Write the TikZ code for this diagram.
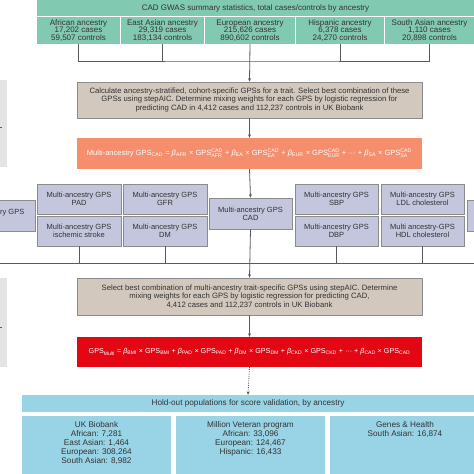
\documentclass[tikz,border=0pt]{standalone}
\usepackage{amsmath}
\usepackage{fontspec}
\setmainfont{Liberation Sans}
\usetikzlibrary{arrows.meta,positioning}
\definecolor{gwasgreen}{HTML}{82C9B2}
\definecolor{calcbeige}{HTML}{D2C8BD}
\definecolor{mixsalmon}{HTML}{F48E6D}
\definecolor{multired}{HTML}{E30613}
\definecolor{traitblue}{HTML}{C3C6DD}
\definecolor{holdblue}{HTML}{99D3E6}
\definecolor{panelgray}{HTML}{E4E4E4}
\definecolor{bordergray}{HTML}{8C8C8C}
\definecolor{linegray}{HTML}{5A5A5A}
\definecolor{textgray}{HTML}{333333}
\newcommand{\mixw}[1]{\textit{β}$_{\text{#1}}$}
\newcommand{\gpsup}[2]{GPS$^{\text{#1}}_{\text{#2}}$}
\newcommand{\gpsub}[1]{GPS$_{\text{#1}}$}
\begin{document}
\begin{tikzpicture}[x=1pt,y=-1pt,>={Stealth[length=3.5pt,width=3pt]},
    line/.style={draw=linegray,line width=0.8pt},
    greenbox/.style={fill=gwasgreen,text=textgray,align=center,inner sep=0pt,font=\fontsize{8}{7.6}\selectfont},
    calcbox/.style={draw=bordergray,fill=calcbeige,line width=0.7pt,text=textgray,align=center,inner sep=0pt,
        minimum width=345,minimum height=36,font=\fontsize{7.7}{8.5}\selectfont},
    formbox/.style={fill=#1,text=white,inner sep=0pt,minimum width=345,minimum height=31,font=\fontsize{7.5}{8.5}\selectfont},
    traitbox/.style={draw=bordergray,fill=traitblue,line width=0.7pt,text=textgray,align=center,inner sep=0pt,
        minimum width=84,minimum height=30,font=\fontsize{7.5}{8}\selectfont},
    holdbox/.style={fill=holdblue,inner sep=0pt},
    holdtext/.style={text=textgray,align=center,inner sep=0pt,font=\fontsize{8.2}{9}\selectfont}]
\useasboundingbox (0,0) rectangle (474,474);
\clip (0,0) rectangle (474,474);
% side panels, cut off at the left edge
\fill[panelgray] (0,80) rectangle (7,167);
\draw[line,line width=0.5pt] (0,127)--(2,127);
\fill[panelgray] (0,278) rectangle (7,367);
\draw[line,line width=0.5pt] (0,327)--(2,327);
% GWAS summary statistics
\node[greenbox,minimum width=437,minimum height=16] (gwas) at (255.5,8) {CAD GWAS summary statistics, total cases/controls by ancestry};
\node[greenbox,minimum width=83,minimum height=27] (afr) at (78.5,30.5) {African ancestry\\17,202 cases\\59,507 controls};
\node[greenbox,minimum width=83,minimum height=27] (eas) at (162.5,30.5) {East Asian ancestry\\29,319 cases\\183,134 controls};
\node[greenbox,minimum width=90,minimum height=27] (eur) at (250,30.5) {European ancestry\\215,626 cases\\890,602 controls};
\node[greenbox,minimum width=88,minimum height=27] (his) at (340,30.5) {Hispanic ancestry\\6,378 cases\\24,270 controls};
\node[greenbox,minimum width=89,minimum height=27] (sas) at (429.5,30.5) {South Asian ancestry\\1,110 cases\\20,898 controls};
% first stage
\node[calcbox] (calc) at (249.5,100) {Calculate ancestry-stratified, cohort-specific GPSs for a trait. Select best combination of these\\
    GPSs using stepAIC. Determine mixing weights for each GPS by logistic regression for\\
    predicting CAD in 4,412 cases and 112,237 controls in UK Biobank};
\node[formbox=mixsalmon] (mix) at (249.5,153.5) {Multi-ancestry \gpsub{CAD} = \mixw{AFR} × \gpsup{CAD}{AFR} + \mixw{EA} × \gpsup{CAD}{EA} + \mixw{EUR} × \gpsup{CAD}{EUR} + ··· + \mixw{SA} × \gpsup{CAD}{SA}};
% trait-specific scores
\node[traitbox,minimum width=86,minimum height=31] (bmi) at (-8,215.5) {Multi-ancestry GPS\\\phantom{GPS}};
\node[traitbox] (pad) at (79,199) {Multi-ancestry GPS\\PAD};
\node[traitbox] (isc) at (79,231) {Multi-ancestry GPS\\ischemic stroke};
\node[traitbox] (gfr) at (165,199) {Multi-ancestry GPS\\GFR};
\node[traitbox] (dm) at (165,231) {Multi-ancestry GPS\\DM};
\node[traitbox,minimum width=83,minimum height=31] (cad) at (250.5,213.5) {Multi-ancestry GPS\\CAD};
\node[traitbox,minimum width=83] (sbp) at (336.5,199) {Multi-ancestry GPS\\SBP};
\node[traitbox,minimum width=83] (dbp) at (336.5,231) {Multi-ancestry GPS\\DBP};
\node[traitbox,minimum width=83] (ldl) at (422.5,199) {Multi-ancestry GPS\\LDL cholesterol};
\node[traitbox,minimum width=83] (hdl) at (422.5,231) {Multi ancestry-GPS\\HDL cholesterol};
\node[traitbox,minimum width=84,minimum height=31] (ckd) at (509,215.5) {};
% second stage
\node[calcbox,minimum height=37] (sel) at (249.5,296.5) {Select best combination of multi-ancestry trait-specific GPSs using stepAIC. Determine\\
    mixing weights for each GPS by logistic regression for predicting CAD,\\
    4,412 cases and 112,237 controls in UK Biobank};
\node[formbox=multired,minimum height=30,font=\fontsize{7.2}{8.5}\selectfont] (multi) at (249.5,352) {\gpsub{Multi} = \mixw{BMI} × \gpsub{BMI} + \mixw{PAD} × \gpsub{PAD} + \mixw{DM} × \gpsub{DM} + \mixw{CKD} × \gpsub{CKD} + ··· + \mixw{CAD} × \gpsub{CAD}};
% validation cohorts
\node[holdbox,minimum width=452,minimum height=17,holdtext] (hold) at (248,403.5) {Hold-out populations for score validation, by ancestry};
\node[holdbox,minimum width=149,minimum height=64] (ukb) at (96.5,448) {};
\node[holdbox,minimum width=149,minimum height=64] (mvp) at (250.5,448) {};
\node[holdbox,minimum width=150,minimum height=64] (gnh) at (405,448) {};
\node[holdtext,below=6pt of ukb.north] (ukbtext) {UK Biobank\\African: 7,281\\East Asian: 1,464\\European: 308,264\\South Asian: 8,982};
\node[holdtext,below=6pt of mvp.north] (mvptext) {Million Veteran program\\African: 33,096\\European: 124,467\\Hispanic: 16,433};
\node[holdtext,below=6pt of gnh.north] (gnhtext) {Genes \& Health\\South Asian: 16,874};
% connectors
\coordinate (gwasjoin) at (250,61);
\draw[line] (afr.south) |- (gwasjoin) -| (sas.south);
\draw[line] (eas.south) -- (eas.south |- gwasjoin);
\draw[line] (his.south) -- (his.south |- gwasjoin);
\draw[line,->] (eur.south) -- (calc.north);
\draw[line,->] (calc.south) -- (mix.north);
\draw[line,->] (mix.south) -- (cad.north);
\coordinate (traitleft) at (-5,263);
\coordinate (traitright) at (480,263);
\draw[line] (traitleft) -- (traitright);
\foreach \t in {isc,dm,dbp,hdl}
    \draw[line] (\t.south) -- (\t.south |- traitleft);
\draw[line,->] (cad.south) -- (sel.north);
\draw[line,->] (sel.south) -- (multi.north);
\draw[line,->,densely dotted] (multi.south) -- (hold.north);
\end{tikzpicture}
\end{document}
